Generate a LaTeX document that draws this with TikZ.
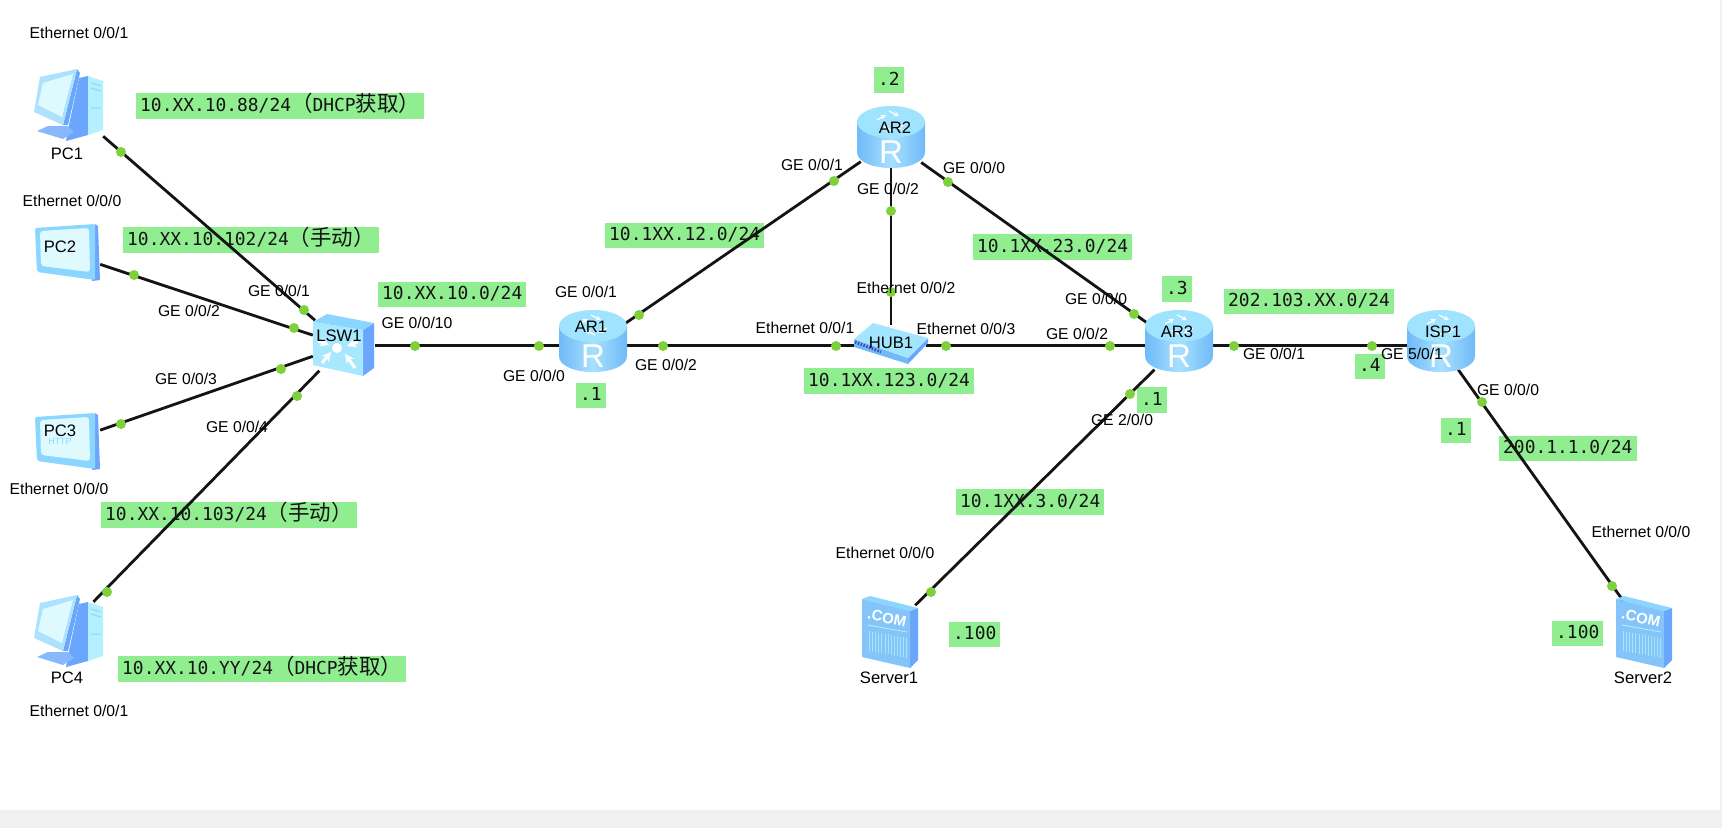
\documentclass[tikz,border=0pt]{standalone}
\usepackage{fontspec}
\usepackage{xcolor}
\setmainfont{Liberation Sans}
\newfontfamily\netmono{DejaVu Sans Mono}
\newfontfamily\cjk{Noto Sans CJK SC}
\newcommand{\zh}[1]{{\fontsize{21.5}{24}\cjk #1}}
\definecolor{netgreen}{HTML}{90EE90}
\definecolor{dotgreen}{HTML}{7ED13B}
\definecolor{linkblack}{HTML}{141414}
\definecolor{stripgray}{HTML}{F0F0F0}
\definecolor{iconpale}{HTML}{DFFAFF}
\definecolor{iconlight}{HTML}{B4F0FF}
\definecolor{iconmid}{HTML}{8AD6FF}
\definecolor{iconblue}{HTML}{6FBAF8}
\definecolor{icondark}{HTML}{6AA6FB}
\usetikzlibrary{positioning}

\tikzset{
	pics/router/.style={code={
		\path[left color=iconblue, right color=iconblue, middle color=iconmid!75!white] (-34,-15) -- (-34,15) .. controls (-34,25) and (-18,31) .. (0,31) .. controls (18,31) and (34,25) .. (34,15) -- (34,-15) -- cycle;
		\fill[iconmid!50!iconlight] (0,-15) ellipse [x radius=34, y radius=16];
		\draw[white, line width=1.3, -stealth] (-14,-17) -- (-5,-22);
		\draw[white, line width=1.3, -stealth] (14,-13) -- (5,-8);
		\draw[white, line width=1.3, -stealth] (-2,-26) -- (8,-21);
		\draw[white, line width=1.3, -stealth] (2,-6) -- (-8,-11);
		\node[text=white, font=\fontsize{33}{33}\selectfont, inner sep=0] (r) at (0,15) {R};
	}},
	pics/desktop/.style={code={
		\fill[icondark] (13,-26) -- (22,-28) -- (22,31) -- (0,37) -- (3,21) -- cycle;
		\fill[iconlight] (22,-28) -- (37,-23) -- (37,26) -- (22,31) -- cycle;
		\draw[iconmid, line width=1] (25,-21) -- (35,-18) (25,-16) -- (35,-13) (25,4) -- (35,4);
		\fill[icondark!80!white] (-29,27) -- (-18,22) -- (2,22) -- (8,28) -- (-3,35) -- cycle;
		\fill[icondark] (11,-35) -- (14,-31) -- (2,21) -- (-3,21) -- cycle;
		\fill[iconmid!70!white] (-26,-27) -- (11,-35) -- (-3,21) -- (-32,8) -- cycle;
		\fill[iconpale] (-23,-21) -- (7,-30) -- (-4,13) -- (-28,1) -- cycle;
	}},
	pics/terminal/.style={code={
		\fill[icondark] (29,-29) -- (32,-27) -- (34,27) -- (26,28) -- cycle;
		\fill[iconmid, rounded corners=2] (-31,-25) -- (29,-29) -- (29,27) -- (-29,19) -- cycle;
		\fill[iconpale, rounded corners=3] (-26,-22) -- (23,-25) -- (24,19) -- (-25,13) -- cycle;
	}},
	pics/switch/.style={code={
		\fill[icondark] (19,-14) -- (30,-21) -- (30,24) -- (19,32) -- cycle;
		\fill[iconmid] (-31,-22) -- (-17,-30) -- (30,-21) -- (19,-14) -- cycle;
		\fill[iconlight!70!iconmid] (-31,-22) -- (19,-14) -- (19,32) -- (-31,21) -- cycle;
		\fill[white] (-7,4) circle [radius=5];
		\draw[white, line width=3, -stealth] (-26,-3) -- (-15,1);
		\draw[white, line width=3, -stealth] (14,-2) -- (3,2);
		\draw[white, line width=3, -stealth] (-22,19) -- (-13,8);
		\draw[white, line width=3, -stealth] (11,24) -- (1,10);
	}},
	pics/hub/.style={code={
		\fill[iconblue] (-37,-5) -- (17,14) -- (17,20) -- (-37,3) -- cycle;
		\fill[icondark] (17,14) -- (37,-6) -- (37,-1) -- (17,20) -- cycle;
		\fill[iconlight!60!iconmid] (-37,-5) -- (-18,-21) -- (37,-6) -- (17,14) -- cycle;
		\draw[blue!45!gray, line width=3, dash pattern=on 1.5 off 1.5] (-36,-2) -- (-10,8);
	}},
	pics/server/.style={code={
		\fill[icondark] (20,-19) -- (28,-22) -- (28,30) -- (20,38) -- cycle;
		\fill[iconmid] (-28,-31) -- (-20,-34) -- (28,-22) -- (20,-19) -- cycle;
		\fill[iconblue!85!white] (-28,-31) -- (20,-19) -- (20,38) -- (-28,27) -- cycle;
		\node[text=white, font=\fontsize{15}{15}\selectfont\bfseries, rotate=-12, inner sep=0] (com) at (-3,-12) {.COM};
		\draw[iconlight, line width=.8] (-22,-5) -- (17,2);
		\foreach \b in {-21,-18,-15,-12,-9,-5,-2,1,4,7,10,13,16}
			\draw[iconlight!80!iconblue, line width=.8] (\b,{1+0.18*(\b+21)}) -- (\b,{21+0.18*(\b+21)});
	}}
}

\begin{document}
\begin{tikzpicture}[x=1pt, y=-1pt,
			net/.style={rectangle, fill=netgreen, anchor=west, inner xsep=4pt, inner ysep=0pt, text=linkblack,
					minimum height=25.5pt, text height=13pt, text depth=3pt, font=\netmono\fontsize{17.9}{20}\selectfont},
			port/.style={inner sep=0pt, text=black, font=\fontsize{15.7}{18}\selectfont},
			devname/.style={inner sep=0pt, text=black, font=\fontsize{16.6}{18}\selectfont},
			device/.style={rectangle, inner sep=0pt},
			link/.style={draw=linkblack, line width=2.8pt},
			dot/.style={circle, fill=dotgreen, inner sep=0pt, minimum size=10pt}]

		% Canvas
		\fill[white] (0,0) rectangle (1722,828);
		\useasboundingbox (0,0) rectangle (1722,828);
		\fill[stripgray] (0,810) rectangle (1722,828);
		\fill[stripgray] (1720,0) rectangle (1722,828);

		% Network labels
		\foreach [count=\i] \x/\y/\t in {
				136/106/{10.XX.10.88/24\zh{（}DHCP\zh{获取）}},
				123/240/{10.XX.10.102/24\zh{（手动）}},
				101/515/{10.XX.10.103/24\zh{（手动）}},
				118/669/{10.XX.10.YY/24\zh{（}DHCP\zh{获取）}},
				378/294.5/{10.XX.10.0/24},
				605/235.5/{10.1XX.12.0/24},
				973/247/{10.1XX.23.0/24},
				804/381/{10.1XX.123.0/24},
				1224/301.5/{202.103.XX.0/24},
				956/502/{10.1XX.3.0/24},
				1499/448.5/{200.1.1.0/24},
				874/80/{.2}, 576/395.5/{.1}, 1162/289/{.3}, 1137/400/{.1},
				1355/366.5/{.4}, 1441/430.5/{.1}, 949/634.5/{.100}, 1552/633.5/{.100}}
			\node[net] (net\i) at (\x,\y) {\t};

		% Define nodes
		\node[device, minimum width=74pt, minimum height=72pt] (PC1) at (66,104) {};
		\node[device, minimum width=68pt, minimum height=58pt] (PC2) at (66,253) {};
		\node[device, minimum width=68pt, minimum height=58pt] (PC3) at (66,442) {};
		\node[device, minimum width=74pt, minimum height=56pt] (PC4) at (66,630) {};
		\node[device, minimum width=62pt, minimum height=50pt] (LSW1) at (344,345.5) {};
		\node[device, minimum width=60pt, minimum height=48pt] (AR1) at (593,345.5) {};
		\node[device, minimum width=60pt, minimum height=48pt] (AR2) at (891,141) {};
		\node[device, minimum width=60pt, minimum height=48pt] (AR3) at (1179,345.5) {};
		\node[device, minimum width=60pt, minimum height=48pt] (ISP1) at (1441,345.5) {};
		\node[device, minimum width=70pt, minimum height=40pt] (HUB1) at (891,345.5) {};
		\node[device, minimum width=50pt, minimum height=50pt] (Server1) at (890,630) {};
		\node[device, minimum width=50pt, minimum height=50pt] (Server2) at (1644,630) {};

		% Draw connections
		\foreach \a/\b in {PC1/LSW1, PC2/LSW1, PC3/LSW1, PC4/LSW1, LSW1/AR1, AR1/HUB1, AR1/AR2, AR2/HUB1,
				AR2/AR3, HUB1/AR3, AR3/ISP1, AR3/Server1, ISP1/Server2}
			\path[link] (\a) -- (\b);

		% Icons
		\foreach \n/\x/\y/\k in {PC1/66/104/desktop, PC4/66/630/desktop, PC2/66/253/terminal, PC3/66/442/terminal,
				LSW1/344/344/switch, HUB1/891/344/hub, AR1/593/341/router, AR2/891/137/router,
				AR3/1179/341/router, ISP1/1441/341/router, Server1/890/630/server, Server2/1644/630/server}
			\pic (\n-) at (\x,\y) {\k};
		\node[text=iconmid, inner sep=0pt, font=\fontsize{9}{9}\selectfont] (http) at (60,441) {HTTP};

		% Port dots
		\foreach [count=\i] \x/\y in {121/152, 304/310, 134/275, 294/328, 121/424, 281/369, 107/592, 297/396,
				415/346, 539/346, 663/346, 836/346, 946/346, 1110/346, 1234/346, 1372/346,
				639/315, 834/181, 948/182, 1134/314, 891/211, 891/292, 1130/394, 931/592, 1482/402, 1612/586}
			\node[dot] (dot\i) at (\x,\y) {};

		% Port labels
		\foreach [count=\i] \x/\y/\t in {
				79/33/{Ethernet 0/0/1}, 72/201/{Ethernet 0/0/0}, 59/489/{Ethernet 0/0/0}, 79/711/{Ethernet 0/0/1},
				279/291/{GE 0/0/1}, 189/311/{GE 0/0/2}, 186/379/{GE 0/0/3}, 237/427/{GE 0/0/4}, 417/323/{GE 0/0/10},
				534/376/{GE 0/0/0}, 586/292/{GE 0/0/1}, 666/365/{GE 0/0/2},
				812/165/{GE 0/0/1}, 888/189/{GE 0/0/2}, 974/168/{GE 0/0/0},
				906/288/{Ethernet 0/0/2}, 805/328/{Ethernet 0/0/1}, 966/329/{Ethernet 0/0/3},
				1096/299/{GE 0/0/0}, 1077/334/{GE 0/0/2}, 1274/354/{GE 0/0/1}, 1122/420/{GE 2/0/0},
				1412/354/{GE 5/0/1}, 1508/390/{GE 0/0/0},
				885/553/{Ethernet 0/0/0}, 1641/532/{Ethernet 0/0/0}}
			\node[port] (port\i) at (\x,\y) {\t};

		% Device names
		\foreach \n/\x/\y in {PC1/67/154, PC2/60/247, PC3/60/431, PC4/67/678, LSW1/339/336, AR1/591/327,
				AR2/895/128, AR3/1177/332, ISP1/1443/332, HUB1/891/343, Server1/889/678, Server2/1643/678}
			\node[devname] (\n-name) at (\x,\y) {\n};

	\end{tikzpicture}
\end{document}
